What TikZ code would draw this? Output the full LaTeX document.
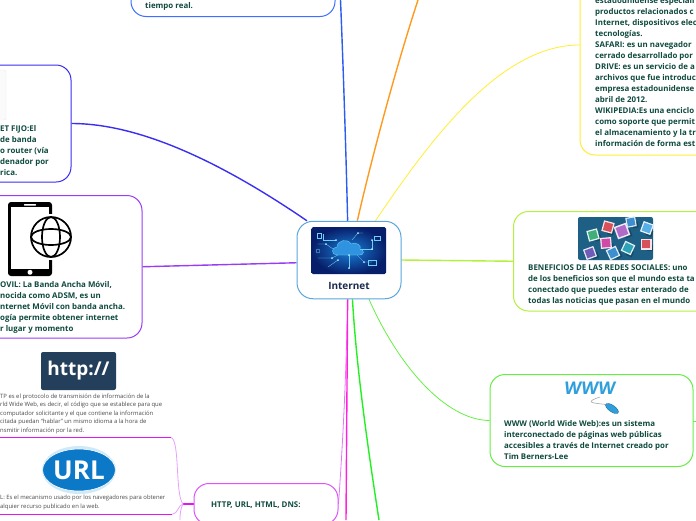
\documentclass[tikz,border=0pt]{standalone}
\usepackage{fontspec}
\setmainfont{Open Sans}
\usetikzlibrary{backgrounds,shapes.geometric}
\definecolor{ink}{HTML}{0F4A3E}
\definecolor{navy}{HTML}{1B2A4E}
\definecolor{greytxt}{HTML}{4A4A4A}
\definecolor{cblue}{HTML}{3F6FFF}
\definecolor{cindigo}{HTML}{3A2EF0}
\definecolor{cpurple}{HTML}{9A3CF5}
\definecolor{cviolet}{HTML}{DD55FA}
\definecolor{cyellow}{HTML}{FFEE33}
\definecolor{clime}{HTML}{B4F03C}
\definecolor{cgreen}{HTML}{66EE44}
\definecolor{cframe}{HTML}{5AA6DC}
\definecolor{hubm}{HTML}{E015F0}
\definecolor{hubl}{HTML}{E8A0FF}
\definecolor{imgh}{HTML}{243F5C}
\definecolor{imgu}{HTML}{0B78C8}
\definecolor{halo}{HTML}{CFE9F7}
\definecolor{netc}{HTML}{1A7FD8}
\definecolor{netd}{HTML}{071F6A}
\definecolor{neta}{HTML}{6FD0F5}
\definecolor{netb}{HTML}{A8F0FF}
\definecolor{socbg}{HTML}{1D5F85}
\definecolor{socg}{HTML}{3FAE7A}
\definecolor{socr}{HTML}{D8505A}
\definecolor{socp}{HTML}{B06AC8}
\definecolor{socb}{HTML}{3E8FD0}
\definecolor{socl}{HTML}{5AAEE8}
\definecolor{socm}{HTML}{D04AA8}
\definecolor{socv}{HTML}{6E5CB8}
\definecolor{soct}{HTML}{2FA3B8}
\definecolor{wwwb}{HTML}{2F9FDC}
\definecolor{corange}{HTML}{FF9A1F}
\definecolor{cmag}{HTML}{FF22DD}
\definecolor{cgreenb}{HTML}{22F022}
\definecolor{cbluedark}{HTML}{2A5CF0}
\tikzset{
  box/.style={draw,fill=white,rounded corners=15,line width=1pt,inner sep=0pt},
  txt/.style={anchor=north west,align=left,inner sep=0pt,text=ink,font=\fontsize{7.9}{11}\selectfont\bfseries},
  small/.style={anchor=north west,align=left,inner sep=0pt,text=greytxt,font=\fontsize{5.9}{8.5}\selectfont},
  smallb/.style={small,font=\fontsize{5.9}{9.8}\selectfont},
  link/.style={line width=1.4pt},
  thin link/.style={line width=0.8pt},
}
\begin{document}
\begin{tikzpicture}[x=1pt,y=-1pt]
\useasboundingbox (0,0) rectangle (696,520);
% boxes
\node[box,draw=cblue,minimum width=204pt,minimum height=76.5pt] (top) at (233,-21.75) {};
\node[box,draw=cindigo,minimum width=171pt,minimum height=117pt] (fijo) at (-14.5,123.5) {};
\node[box,draw=cpurple,minimum width=242pt,minimum height=142.5pt] (movil) at (21,266.75) {};
\node[box,draw=cyellow,minimum width=220pt,minimum height=220pt] (apps) at (690,45) {};
\node[box,draw=clime,minimum width=286.5pt,minimum height=99.5pt] (benef) at (656.75,261.25) {};
\node[box,draw=cgreen,minimum width=203pt,minimum height=92pt] (www) at (591.5,420.5) {};
\node[box,draw=cviolet,minimum width=144pt,minimum height=41pt] (proto) at (266,504) {};
\node[box,draw=cframe,minimum width=104pt,minimum height=77.5pt,rounded corners=16] (internet) at (349,260) {};
% texts
\node[txt] (ttop) at (145,2.5) {tiempo real.};
\node[txt] (tfijo) at (0,125.5) {ET FIJO:El\\de banda\\o router (vía\\denador por\\rica.};
\node[txt] (tmovil) at (0,281) {OVIL: La Banda Ancha Móvil,\\nocida como ADSM,  es un\\nternet Móvil con banda ancha.\\ogía permite obtener internet\\r lugar y momento};
\node[txt] (tapps) at (595,-2.5) {estadounidense especiali\\productos relacionados c\\Internet, dispositivos elec\\tecnologías.\\SAFARI: es un navegador\\cerrado desarrollado por\\DRIVE: es un servicio de a\\archivos que fue introduc\\empresa estadounidense\\abril de 2012.\\WIKIPEDIA:Es una enciclo\\como soporte que permit\\el almacenamiento y la tr\\información de forma est};
\node[txt] (tbenef) at (528,265) {BENEFICIOS DE LAS REDES SOCIALES: uno\\de los beneficios son que el mundo esta ta\\conectado que puedes estar enterado de\\todas las noticias que pasan en el mundo};
\node[txt] (twww) at (504,420) {WWW (World Wide Web):es un sistema\\interconectado de páginas web públicas\\accesibles a través de Internet creado por\\Tim Berners-Lee};
\node[txt] (tproto) at (211,502) {HTTP, URL, HTML, DNS:};
\node[inner sep=0pt,text=navy,font=\fontsize{10}{12}\selectfont\bfseries] (tint) at (349,286) {Internet};
\node[small] (thttp) at (0,393.5) {TP es el protocolo de transmisión de información de la\\rld Wide Web, es decir, el código que se establece para que\\computador solicitante y el que contiene la información\\citada puedan “hablar” un mismo idioma a la hora de\\nsmitir información por la red.};
\node[smallb] (turl) at (0,494.5) {L: Es el mecanismo usado por los navegadores para obtener\\alquier recurso publicado en la web.};
% placeholder image
\node[draw=black!8,fill=black!2,rounded corners=2,minimum width=20pt,minimum height=50pt,inner sep=0pt] (imgfijo) at (-4,95) {};
% phone icon
\fill[black,rounded corners=3] (8,202) rectangle (52,276);
\fill[white] (11,207) rectangle (49,269);
\fill[white,rounded corners=0.5] (24,204.2) rectangle (36,205.6);
\fill[white] (30,272.3) circle (2.5);
\fill[white] (51,237) circle (23);
\draw[black,line width=1.7pt] (51,237) circle (20);
\draw[black,line width=1.7pt] (51,237) ellipse (9 and 20);
\draw[black,line width=1.7pt] (51,237) ellipse (20 and 8);
% http image
\node[fill=imgh,rounded corners=2,minimum width=75pt,minimum height=38pt,inner sep=0pt,text=white,font=\fontsize{19}{22}\selectfont\bfseries] (imghttp) at (78.5,371) {http://};
% URL image
\node[ellipse,fill=halo,minimum width=74pt,minimum height=48pt,inner sep=0pt] (urlhalo) at (79,470) {};
\node[ellipse,fill=imgu,draw=white,line width=0.6pt,minimum width=68pt,minimum height=42pt,inner sep=0pt,text=white,font=\fontsize{26}{28}\selectfont\bfseries] (imgurl) at (79,470) {URL};
% Internet image
\node[rounded corners=1.5,minimum width=74.5pt,minimum height=47pt,inner sep=0pt,inner color=netc,outer color=netd] (imgnet) at (348.75,250.5) {};
\begin{scope}[netl/.style={draw=neta,line width=0.35pt},netp/.style={fill=netb}]
\draw[netl,fill=neta!25!netc] (337,255) .. controls (331,255) and (331,247) .. (337,247) .. controls (337,240) and (348,238) .. (351,244) .. controls (356,241) and (362,246) .. (360,249) .. controls (365,250) and (364,255) .. (360,255) -- cycle;
\draw[netl] (318,244) -- (326,244) -- (333,249);
\draw[netl] (323,234) -- (323,240) -- (336,240);
\draw[netl] (318,258) -- (332,258) -- (338,255);
\draw[netl] (349,255) -- (349,268);
\draw[netl] (360,249) -- (372,249) -- (372,240);
\draw[netl] (357,255) -- (364,262) -- (372,262);
\draw[netl] (352,240) -- (358,233) -- (363,233);
\draw[netl] (328,267) -- (338,260);
\foreach \p in {(326,244),(336,240),(332,258),(349,268),(372,249),(372,240),(364,262),(358,233),(338,260),(349,255)}
  \fill[netp] \p circle (1);
\draw[netl] (374,236) rectangle (380,240);
\draw[netl] (368,260) rectangle (376,265);
\draw[netl] (317,233) rectangle (321,238);
\draw[netl] (318,251) circle (2);
\end{scope}
% social image
\node[fill=socbg,rounded corners=2,minimum width=75pt,minimum height=43pt,inner sep=0pt] (imgsoc) at (615.5,238.5) {};
\foreach \cx/\cy/\rr/\cc/\ss in {593/235/15/socg/11,608/227/-15/socr/11,622/231/20/socp/13,631/222/10/socb/10,647/228/-20/socl/11,606/243/5/socm/11,646/244/0/socr/11,590/253/20/socv/11,613/253/25/socb/11,628/248/-25/soct/11}{
  \fill[black!25!socbg,rotate around={\rr:(\cx,\cy)}] (\cx+1,\cy+1) rectangle ++(\ss*0.55,\ss*0.55);
  \fill[white!85!\cc,rotate around={\rr:(\cx,\cy)}] (\cx-\ss*0.5,\cy-\ss*0.5) rectangle ++(\ss,\ss);
  \fill[\cc,rotate around={\rr:(\cx,\cy)}] (\cx-\ss*0.38,\cy-\ss*0.38) rectangle ++(\ss*0.76,\ss*0.76);
}
% www image
\node[inner sep=0pt,text=wwwb,xslant=0.15,font=\fontsize{17.5}{18}\selectfont\bfseries] (imgwww) at (590,388.5) {WWW};
\coordinate (cableA) at (600,397);
\coordinate (cableB) at (607,404.5);
\draw[black!40,line width=0.5pt] (cableA) .. controls (585,402) and (590,403) .. (cableB);
\node[ellipse,fill=wwwb,draw=wwwb!70!black,line width=0.4pt,rotate=-35,minimum width=15pt,minimum height=6.5pt,inner sep=0pt] (mouse) at (612,408.5) {};
% connector points
\coordinate (blueEnd) at (340.5,0);
\coordinate (orangeEnd) at (418,0);
\coordinate (magEnd) at (346,520);
\coordinate (greenEnd) at (379,520);
\coordinate (hub) at (183,504);
\coordinate (httpLineL) at (0,437.5);
\coordinate (httpLineR) at (171,437.5);
\coordinate (urlLineL) at (0,514.3);
\coordinate (urlLineR) at (172,514.3);
\coordinate (hubLow) at (180,520);
\coordinate (wwwOutA) at (693,421);
\coordinate (wwwOutB) at (696,421);
\begin{pgfonlayer}{background}
\draw[link,cbluedark] (internet.92) .. controls (346,150) and (343,60) .. (blueEnd);
\draw[link,corange] (internet.78) .. controls (370,165) and (395,70) .. (orangeEnd);
\draw[thin link,cyellow] (internet.56) .. controls (430,140) and (500,45) .. (apps.west);
\draw[link,cindigo] (internet.137) .. controls (240,175) and (150,123.5) .. (fijo.east);
\draw[link,cpurple] (internet.183) -- (movil.east);
\draw[link,clime] (internet.east) -- (benef.west);
\draw[thin link,cgreen] (internet.297.5) .. controls (398,365) and (445,420) .. (www.west);
\draw[link,cgreenb] (internet.275) .. controls (356,360) and (365,430) .. (greenEnd);
\draw[thin link,cviolet!80] (proto.east) .. controls (343,440) and (346,380) .. (internet.268);
\draw[link,cmag] (internet.268) -- (magEnd);
\draw[link,hubm] (hub) -- (proto.west);
\draw[link,hubm] (httpLineL) -- (httpLineR);
\draw[link,hubm] (urlLineL) -- (urlLineR);
\draw[thin link,hubl] (httpLineR) .. controls (180,440) and (175,495) .. (hub);
\draw[thin link,hubl] (urlLineR) .. controls (178,514) and (178,505) .. (hub);
\draw[thin link,hubl] (hubLow) .. controls (180,512) and (181,508) .. (hub);
\draw[thin link,cgreen] (wwwOutA) -- (wwwOutB);
\end{pgfonlayer}
\end{tikzpicture}
\end{document}
